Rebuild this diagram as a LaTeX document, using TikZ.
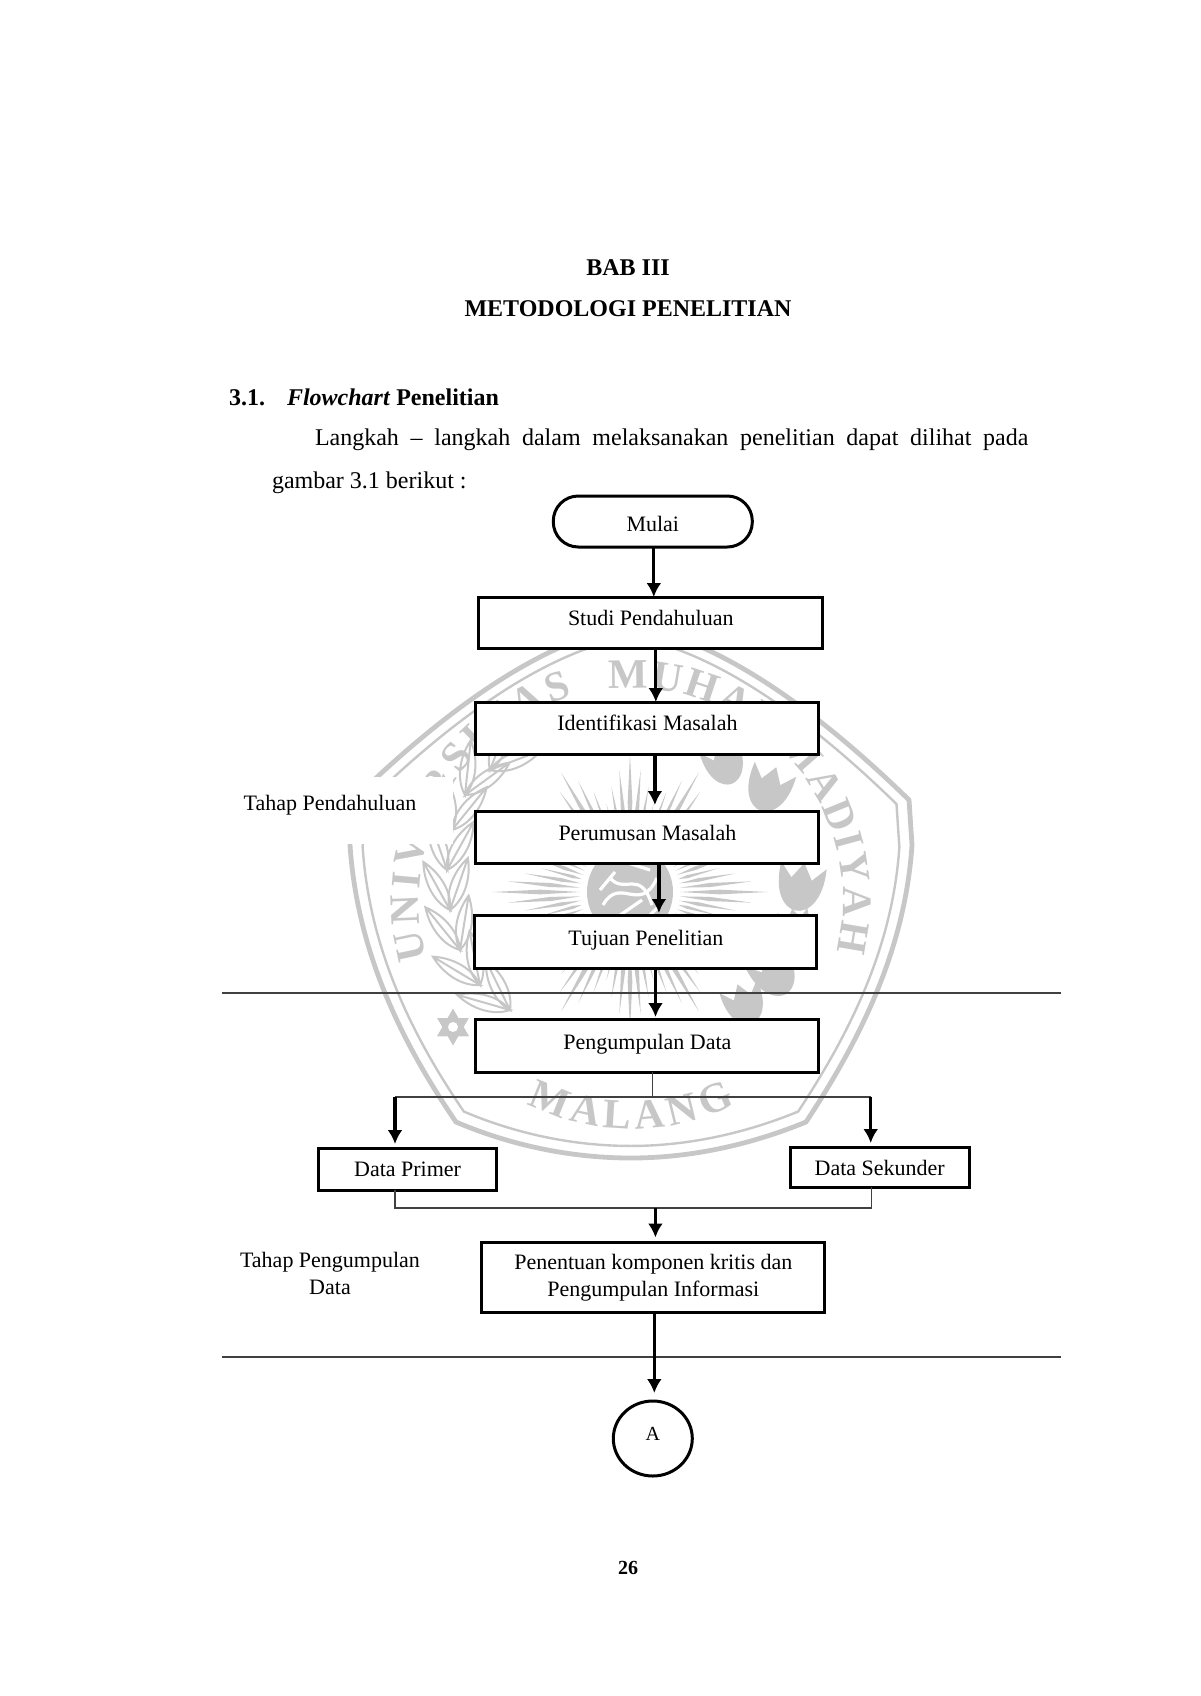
\documentclass[tikz,border=0pt]{standalone}
\usepackage{fontspec}
\setmainfont{Liberation Serif}
\usetikzlibrary{arrows.meta,shapes.geometric,decorations.text}
\definecolor{wmgrey}{gray}{0.78}
\newcommand{\wmfont}{\fontsize{21}{21}\selectfont\bfseries\color{wmgrey}}
\newcommand{\wmshield}{(631,625) .. controls (722,640) and (822,715) .. (909,800) -- (912,845) .. controls (905,950) and (860,1040) .. (806,1122) .. controls (750,1145) and (690,1158) .. (631,1158) .. controls (570,1158) and (510,1145) .. (456,1122) .. controls (400,1040) and (357,950) .. (350,845) -- (353,800) .. controls (440,715) and (540,640) .. (631,625) -- cycle}
\tikzset{
  kotak/.style={draw, line width=1.5pt, fill=white, outer sep=0pt, inner sep=0pt, font=\fontsize{11}{11}\selectfont, text height=7pt, text depth=3.8pt},
  panah/.style={line width=1.6pt, -{Latex[length=7pt,width=7.5pt]}},
  tipis/.style={line width=0.55pt, black!75},
  batas/.style={line width=0.8pt, black!75},
  tulisan/.style={inner sep=0pt, outer sep=0pt, font=\fontsize{12}{12}\selectfont},
  tahap/.style={inner sep=0pt, font=\fontsize{11}{13.5}\selectfont, align=center},
  daun/.style={draw=wmgrey, line width=1pt},
}
\begin{document}
\begin{tikzpicture}[x=0.5pt,y=-0.5pt]
\useasboundingbox (0,0) rectangle (1200,1696);
% watermark
\draw[wmgrey, line width=2.4pt, line join=round] \wmshield;
\draw[wmgrey, line width=1.2pt, line join=round, shift={(631,890)}, scale=0.955, shift={(-631,-890)}] \wmshield;
\path[decorate, decoration={text along path, text align=fit to path, text={|\wmfont|UNIVERSITAS}}]
  (631,900) ++(196:106pt) arc[start angle=196, end angle=106, radius=106pt];
\path[decorate, decoration={text along path, text align=fit to path, text={|\wmfont|MUHAMMADIYAH}}]
  (631,900) ++(96:106pt) arc[start angle=96, end angle=-14, radius=106pt];
\path[decorate, decoration={text along path, text align=fit to path, text={|\wmfont|MALANG}}]
  (631,900) ++(243:114.5pt) arc[start angle=243, end angle=297, radius=114.5pt];
\foreach \ang in {0,5,...,355} {
  \pgfmathsetmacro{\panjang}{138-3.1*abs(mod(\ang+15,30)-15)}
  \pgfmathsetmacro{\tengah}{0.65*\panjang}
  \fill[wmgrey, shift={(630,892)}] (\ang:50) -- (\ang-1.5:\tengah) -- (\ang:\panjang) -- (\ang+1.5:\tengah) -- cycle;
}
\fill[wmgrey] (630,892) ellipse (43 and 46);
\draw[white, line width=1.6pt] (603,905) .. controls (620,875) and (640,915) .. (657,878) (610,878) .. controls (625,895) and (640,868) .. (652,905) (616,918) -- (642,900) (600,890) -- (615,872) (640,925) -- (660,905) (625,862) -- (650,870);
\foreach \x/\y/\r in {510/1010/140, 480/985/125, 460/950/105, 450/910/95, 447/870/85, 452/830/75, 465/795/60, 490/770/45}
  \foreach \off in {-24,24}
    \draw[daun, shift={(\x,\y)}, rotate=\r+\off] (0,0) .. controls (14,10) and (36,10) .. (55,0) .. controls (36,-10) and (14,-10) .. (0,0) -- (55,0);
\foreach \x/\y/\s/\r in {725/765/20/20, 768/790/22/-20, 800/888/23/-10, 795/925/15/10, 775/975/22/30, 745/1005/20/20}
  \fill[wmgrey, shift={(\x,\y)}, scale=\s, rotate=\r] (-1,-1) -- (-.45,-.4) -- (0,-1.1) -- (.45,-.4) -- (1,-1) .. controls (1.1,.4) and (.5,1) .. (0,1) .. controls (-.5,1) and (-1.1,.4) .. (-1,-1) -- cycle;
\foreach \ang in {90,210,330} \fill[wmgrey, shift={(453,1027)}] (\ang:18) -- (\ang+120:18) -- (\ang+240:18) -- cycle;
\foreach \ang in {30,150,270} \fill[wmgrey, shift={(453,1027)}] (\ang:18) -- (\ang+120:18) -- (\ang+240:18) -- cycle;
\fill[white] (453,1027) circle (5);
\fill[white] (240,777) rectangle (453,844);
% judul
\node[tulisan, anchor=base, font=\fontsize{12}{12}\selectfont\bfseries] (bab) at (628,275) {BAB III};
\node[tulisan, anchor=base, font=\fontsize{12}{12}\selectfont\bfseries] (judul) at (628,316) {METODOLOGI PENELITIAN};
\node[tulisan, anchor=base west, font=\fontsize{12}{12}\selectfont\bfseries] (subbab) at (229,405) {\hbox to 29pt{3.1.\hfil}\textit{Flowchart} Penelitian};
\node[tulisan, anchor=base west] (baris1) at (315,445) {\hbox to 356.7pt{Langkah – langkah dalam melaksanakan penelitian dapat dilihat pada}};
\node[tulisan, anchor=base west] (baris2) at (272,488) {gambar 3.1 berikut :};
% kotak
\node[kotak, rounded corners=12.5pt, minimum width=99.5pt, minimum height=25.5pt, text height=11.6pt, text depth=2pt] (mulai) at (652.8,521.5) {Mulai};
\node[kotak, minimum width=172pt, minimum height=25.5pt] (studi) at (650.8,622.5) {Studi Pendahuluan};
\node[kotak, minimum width=171.5pt, minimum height=26pt, text depth=4.9pt] (identifikasi) at (647.4,728) {Identifikasi Masalah};
\node[kotak, minimum width=171.5pt, minimum height=26pt] (perumusan) at (647.4,837) {Perumusan Masalah};
\node[kotak, minimum width=171pt, minimum height=26.5pt, text depth=2.8pt] (tujuan) at (645.9,941.5) {Tujuan Penelitian};
\node[kotak, minimum width=171.5pt, minimum height=26.5pt, text depth=2.8pt] (pengumpulan) at (647.4,1045.5) {Pengumpulan Data};
\node[kotak, minimum width=88.7pt, minimum height=21pt, text height=9pt, text depth=1.7pt] (primer) at (407.6,1169) {Data Primer};
\node[kotak, minimum width=89.5pt, minimum height=20pt, text height=10.4pt, text depth=2pt] (sekunder) at (879.7,1167) {Data Sekunder};
\node[kotak, minimum width=171.5pt, minimum height=35pt, align=center, text height=, text depth=, font=\fontsize{11}{13.7}\selectfont] (penentuan) at (653.3,1277.5) {Penentuan komponen kritis dan\\Pengumpulan Informasi};
\node[kotak, ellipse, minimum width=39.5pt, minimum height=37.5pt, font=\fontsize{10}{10}\selectfont, text depth=5pt] (hasil) at (652.8,1438.5) {A};
\node[tahap] (tahap1) at (330,805) {Tahap Pendahuluan};
\node[tahap] (tahap2) at (330,1273.5) {Tahap Pengumpulan\\Data};
\node[tulisan, anchor=base, font=\fontsize{10}{10}\selectfont\bfseries] (halaman) at (628,1574) {26};
% batas tahap
\coordinate (batasAkiri) at (222,993);
\coordinate (batasAkanan) at (1061,993);
\coordinate (batasBkiri) at (222,1357);
\coordinate (batasBkanan) at (1061,1357);
\draw[batas] (batasAkiri) -- (batasAkanan);
\draw[batas] (batasBkiri) -- (batasBkanan);
% panah
\draw[panah] ([xshift=0.5pt]mulai.south) -- ([xshift=0.5pt]mulai.south |- studi.north);
\draw[panah] ([xshift=2.5pt]studi.south) -- ([xshift=2.5pt]studi.south |- identifikasi.north);
\draw[panah, shorten >=3pt] ([xshift=3.75pt]identifikasi.south) -- ([xshift=3.75pt]identifikasi.south |- perumusan.north);
\draw[panah, shorten >=1pt] ([xshift=5.75pt]perumusan.south) -- ([xshift=5.75pt]perumusan.south |- tujuan.north);
\draw[panah, shorten >=1pt] ([xshift=4.8pt]tujuan.south) -- ([xshift=4.8pt]tujuan.south |- pengumpulan.north);
\coordinate (cabang) at (652.8,1097);
\coordinate (cabangkiri) at (395,1097);
\coordinate (cabangkanan) at (870.7,1097);
\draw[tipis] (cabang |- pengumpulan.south) -- (cabang);
\draw[tipis] (cabangkiri) -- (cabangkanan);
\draw[panah, shorten >=2pt] (cabangkiri) -- (cabangkiri |- primer.north);
\draw[panah, shorten >=2pt] (cabangkanan) -- (cabangkanan |- sekunder.north);
\coordinate (gabung) at (655.4,1208);
\coordinate (gabungkiri) at (395,1208);
\coordinate (gabungkanan) at (871.7,1208);
\draw[tipis] (gabungkiri |- primer.south) -- (gabungkiri) -- (gabungkanan) -- (gabungkanan |- sekunder.south);
\draw[panah, shorten >=2.5pt] (gabung) -- (gabung |- penentuan.north);
\draw[panah, shorten >=4pt] ([xshift=0.5pt]penentuan.south) -- ([xshift=0.5pt]penentuan.south |- hasil.north);
\end{tikzpicture}
\end{document}
